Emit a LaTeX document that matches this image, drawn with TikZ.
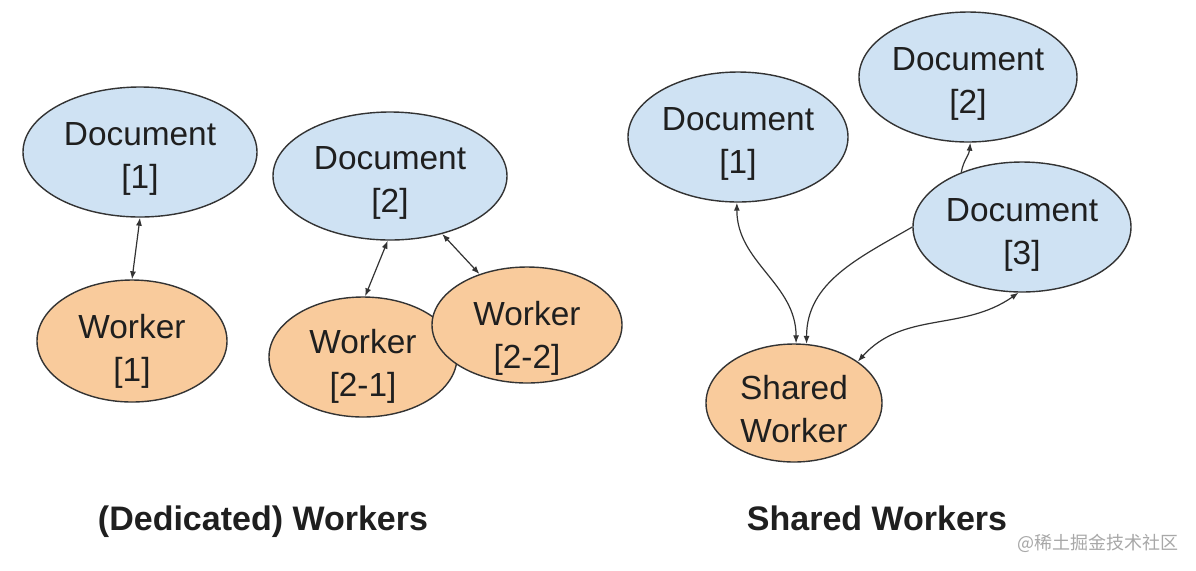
\documentclass[tikz,border=0pt]{standalone}
\usepackage{fontspec}
\setmainfont{Liberation Sans}
\newfontfamily\cjkfont{Noto Sans CJK SC}
\usetikzlibrary{arrows.meta,shapes.geometric}
\definecolor{wkblue}{HTML}{CFE2F3}
\definecolor{wkorange}{HTML}{F9CB9C}
\definecolor{wkline}{HTML}{333333}
\definecolor{wkink}{HTML}{1F1F1F}
\definecolor{wkmark}{HTML}{A8A8A8}
\newcommand{\tdrop}[1]{\rule{0pt}{#1}}
\tikzset{
  docnode/.style={ellipse,draw=wkline,line width=0.7pt,fill=wkblue,inner xsep=0pt,inner ysep=-6pt,align=center,text=wkink,font=\fontsize{16.7}{21.5}\selectfont},
  wknode/.style={docnode,fill=wkorange},
  duplex/.style={{Latex[length=4pt,width=3pt]}-{Latex[length=4pt,width=3pt]},line width=0.6pt,draw=wkline},
  simplex/.style={-{Latex[length=4pt,width=3pt]},line width=0.6pt,draw=wkline},
  caption/.style={anchor=base,text=wkink,font=\fontsize{17}{20}\selectfont\bfseries}
}

\begin{document}
\begin{tikzpicture}[x=0.5pt,y=-0.5pt]
  \fill[white] (0,0) rectangle (1196,570);
  \useasboundingbox (0,0) rectangle (1196,570);
  % left: one worker per document
  \begin{scope}
    \node[docnode,minimum width=117pt,minimum height=65pt] (d1) at (140,152) {\tdrop{18pt}Document\\{[1]}};
    \node[wknode,minimum width=95pt,minimum height=61pt] (w1) at (132,341) {\tdrop{22pt}Worker\\{[1]}};
    \node[docnode,minimum width=117pt,minimum height=64pt] (d2) at (390,176) {\tdrop{18pt}Document\\{[2]}};
    \node[wknode,minimum width=94pt,minimum height=60pt] (w21) at (363,357) {\tdrop{21pt}Worker\\{[2-1]}};
    \node[wknode,minimum width=95pt,minimum height=58pt] (w22) at (527,325) {\tdrop{25pt}Worker\\{[2-2]}};
    \draw[duplex] (d1.south) -- (w1.north);
    \draw[duplex] (d2.-92) -- (w21.88);
    \draw[duplex] (d2.-48) -- (w22.133);
    \node[caption] (capl) at (263,530) {(Dedicated) Workers};
  \end{scope}
  % right: one worker for all documents
  \begin{scope}[shift={(600,0)}]
    \node[docnode,minimum width=110pt,minimum height=65pt] (r1) at (138,137) {\tdrop{18pt}Document\\{[1]}};
    \node[docnode,minimum width=109pt,minimum height=65pt] (r2) at (368,77) {\tdrop{18pt}Document\\{[2]}};
    \node[docnode,minimum width=109pt,minimum height=65pt] (r3) at (422,227) {\tdrop{19pt}Document\\{[3]}};
    \node[wknode,minimum width=88pt,minimum height=59pt] (sw) at (194,403) {\tdrop{18pt}Shared\\Worker};
    \draw[simplex] (r3.138) to[out=80,in=-95] (r2.-88);
    \draw[duplex] (r1.-91) to[out=-90,in=90] (sw.88);
    \draw[simplex] (r3.west) to[out=210,in=90] (sw.78);
    \draw[duplex] (r3.-93) to[out=215,in=48] (sw.33);
    \node[caption] (capr) at (277,530) {Shared Workers};
  \end{scope}
  \node[text=wkmark,font=\cjkfont\fontsize{9}{11}\selectfont] (mark) at (1098,543) {@稀土掘金技术社区};
\end{tikzpicture}
\end{document}
